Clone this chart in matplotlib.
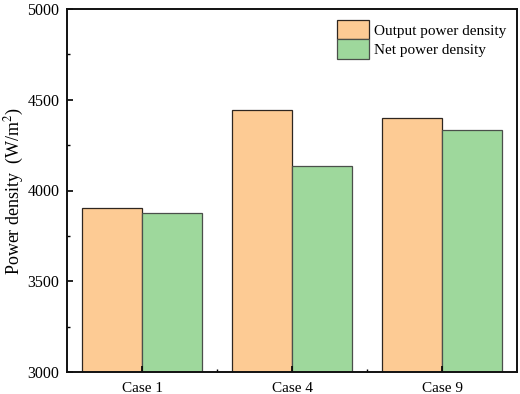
import matplotlib
matplotlib.use("Agg")
import matplotlib.pyplot as plt
import numpy as np
from matplotlib.ticker import MultipleLocator, FixedLocator

# --- data ---
cases = ["Case 1", "Case 4", "Case 9"]
output_density = [3905, 4443, 4401]
net_density = [3876, 4135, 4335]

plt.rcParams["font.family"] = ["Liberation Serif", "DejaVu Serif"]
plt.rcParams["mathtext.fontset"] = "stix"

fig = plt.figure(figsize=(5.2, 3.94), dpi=100)
ax = fig.add_axes([67 / 520, 22 / 394, 450 / 520, 363 / 394])

x = np.arange(len(cases))
w = 0.4
ax.bar(x - w / 2, output_density, w, color="#fdcb94", edgecolor="#2e2620",
       linewidth=0.9, label="Output power density")
ax.bar(x + w / 2, net_density, w, color="#9ed89c", edgecolor="#4a4f4a",
       linewidth=0.9, label="Net power density")

ax.set_xlim(-0.5, 2.5)
ax.set_ylim(3000, 5000)
ax.set_xticks(x)
ax.set_xticklabels(cases, fontsize=11)
ax.xaxis.set_minor_locator(FixedLocator([0.5, 1.5]))
ax.yaxis.set_major_locator(MultipleLocator(500))
ax.yaxis.set_minor_locator(MultipleLocator(250))
ax.tick_params(axis="both", which="major", direction="in", length=4, width=1.2,
               labelsize=11.5)
ax.tick_params(axis="both", which="minor", direction="in", length=2.5, width=1.0)
ax.tick_params(axis="x", pad=7, labelsize=11)
ax.tick_params(axis="y", pad=5.5)
ax.set_ylabel("Power density  (W/m$^2$)", fontsize=13, labelpad=1)

for s in ax.spines.values():
    s.set_linewidth(1.4)
    s.set_color("#111111")

ax.legend(loc="upper right", frameon=False, fontsize=11, handlelength=2.1,
          handleheight=1.6, handletextpad=0.35, labelspacing=0.0,
          borderaxespad=0.3)

fig.savefig("out.png", dpi=100)
